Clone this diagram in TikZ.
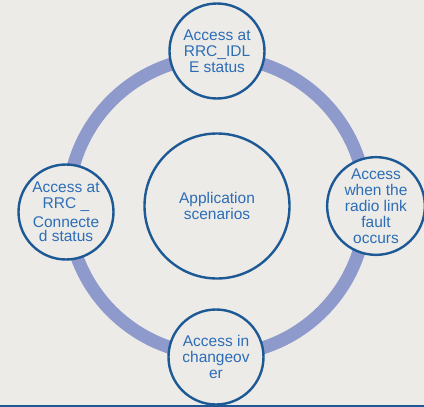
\documentclass[tikz,border=0pt]{standalone}
\usepackage{fontspec}
\setmainfont{Liberation Sans}
\usetikzlibrary{positioning}
\definecolor{PageGrey}{HTML}{EDEBE8}
\definecolor{RingBlue}{HTML}{8E9ACB}
\definecolor{CircBlue}{HTML}{1D5A95}
\definecolor{TextBlue}{HTML}{2C6DB7}

\begin{document}
\begin{tikzpicture}[x=1pt, y=-1pt,
    bubble/.style={circle, draw=CircBlue, line width=2.4pt, fill=PageGrey,
      text=TextBlue, align=center, inner sep=0pt, minimum size=95pt,
      font=\fontsize{15.5}{16}\selectfont}]
  % page: 424 x 407 px, y runs downwards
  \fill[PageGrey] (0,0) rectangle (424,407);
  \useasboundingbox (0,0) rectangle (424,407);
  \node[bubble, minimum size=145pt] (app) at (217,206) {Application\\scenarios};
  % ring behind the four cases
  \draw[RingBlue, line width=13pt] (app.center) circle (149pt);
  \node[bubble] (idle) at (217,51) {Access at\\RRC\_IDL\\E status};
  \node[bubble] (fault) at (376,206) {Access\\when the\\radio link\\fault\\occurs};
  \node[bubble] (handover) at (216,357) {Access in\\changeov\\er};
  \node[bubble] (connected) at (66,212) {Access at\\RRC \_\\[3pt]Connecte\\[-2pt]d status};
  % rule along the bottom edge
  \draw[CircBlue, line width=2.5pt] (0,405.8) -- (424,405.8);
\end{tikzpicture}
\end{document}
